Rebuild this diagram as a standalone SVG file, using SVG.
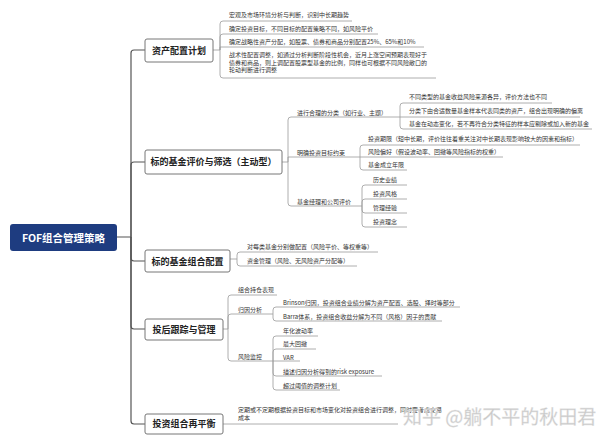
<svg xmlns="http://www.w3.org/2000/svg" width="600" height="444" viewBox="0 0 600 444">
<style>
text{font-family:"Noto Sans CJK SC","Noto Sans",sans-serif;}
.t{font-size:6px;fill:#333;}
.h{font-size:9px;fill:#222;font-weight:700;text-anchor:middle;}
.box{fill:#fff;stroke:#777;stroke-width:1;}
.trunk{fill:none;stroke:#555;stroke-width:1.2;}
.ln{fill:none;stroke:#9a9a9a;stroke-width:0.8;}
.wm{font-size:19px;fill:#c9c9c9;stroke:#e6e6e6;stroke-width:0.3;}
</style>
<rect width="600" height="444" fill="#fff"/>
<g id="connectors">
<path class="trunk" d="M117,237 H131 V53 Q131,50 134,50 H145"/>
<path class="trunk" d="M131,237 V165 Q131,162 134,162 H145"/>
<path class="trunk" d="M131,237 V258 Q131,261 134,261 H145"/>
<path class="trunk" d="M131,237 V326 Q131,329 134,329 H145"/>
<path class="trunk" d="M131,237 V421 Q131,424 134,424 H145"/>
<!-- section 1 -->
<path class="ln" d="M213,50 H220 V24 Q220,21 223,21 H352"/>
<path class="ln" d="M220,50 V37 Q220,34 223,34 H378"/>
<path class="ln" d="M220,50 V47 H424"/>
<path class="ln" d="M220,50 V75 Q220,78 223,78 H436"/>
<!-- section 2 -->
<path class="ln" d="M282,162 H288 V120 Q288,117 291,117 H400"/>
<path class="ln" d="M288,162 V157 H360"/>
<path class="ln" d="M288,162 V203 Q288,206 291,206 H362"/>
<path class="ln" d="M400,117 V106 Q400,103 403,103 H552"/>
<path class="ln" d="M400,117 H580"/>
<path class="ln" d="M400,117 V126 Q400,129 403,129 H592"/>
<path class="ln" d="M360,157 V148 Q360,145 363,145 H580"/>
<path class="ln" d="M360,157 H503"/>
<path class="ln" d="M360,157 V167 Q360,170 363,170 H407"/>
<path class="ln" d="M362,206 V188 Q362,185 365,185 H407"/>
<path class="ln" d="M362,206 V202 Q362,199 365,199 H407"/>
<path class="ln" d="M362,206 V210 Q362,213 365,213 H407"/>
<path class="ln" d="M362,206 V224 Q362,227 365,227 H407"/>
<!-- section 3 -->
<path class="ln" d="M230,259 H237 V255 Q237,252 240,252 H378"/>
<path class="ln" d="M237,259 V263 Q237,266 240,266 H357"/>
<!-- section 4 -->
<path class="ln" d="M223,329 H228 V298 Q228,295 231,295 H277"/>
<path class="ln" d="M228,329 V317 Q228,314 231,314 H273"/>
<path class="ln" d="M228,329 V358 Q228,361 231,361 H273"/>
<path class="ln" d="M273,314 V310 Q273,307 276,307 H460"/>
<path class="ln" d="M273,314 V318 Q273,321 276,321 H442"/>
<path class="ln" d="M273,361 V339 Q273,336 276,336 H318"/>
<path class="ln" d="M273,361 V352 Q273,349 276,349 H316"/>
<path class="ln" d="M273,361 H300"/>
<path class="ln" d="M273,361 V373 Q273,376 276,376 H382"/>
<path class="ln" d="M273,361 V387 Q273,390 276,390 H340"/>
<!-- section 5 -->
<path class="ln" d="M223,424 H398"/>
</g>
<g id="root">
<rect x="10" y="224" width="107" height="27" rx="3" fill="#1e3c80"/>
<text x="63.5" y="241.5" text-anchor="middle" font-size="10.5" font-weight="700" fill="#fff">FOF组合管理策略</text>
</g>
<g id="n1">
<rect class="box" x="145" y="39" width="68" height="23" rx="2"/>
<text class="h" x="179" y="53.5">资产配置计划</text>
</g>
<g id="n1-items">
<text class="t" x="229" y="17">宏观及市场环境分析与判断，识别中长期趋势</text>
<text class="t" x="229" y="30.5">确定投资目标，不同目标的配置策略不同，如风险平价</text>
<text class="t" x="229" y="44">确定战略性资产分配，如股票、债券和商品分别配置25%、65%和10%</text>
<text class="t" x="229" y="57">战术性配置调整，如通过分析判断阶段性机会，近月上涨空间预期表现好于</text>
<text class="t" x="229" y="64.5">债券和商品，则上调配置股票型基金的比例，同样也可根据不同风险敞口的</text>
<text class="t" x="229" y="72">轮动判断进行调整</text>
</g>
<g id="n2">
<rect class="box" x="145" y="150" width="137" height="24" rx="2"/>
<text class="h" x="213.5" y="165">标的基金评价与筛选（主动型）</text>
</g>
<g id="n2-items">
<text class="t" x="297" y="115">进行合理的分类（如行业、主题）</text>
<text class="t" x="409" y="99">不同类型的基金收益风险来源各异，评价方法也不同</text>
<text class="t" x="409" y="113">分类下由合适数量基金样本代表同类的资产，组合出现明确的偏离</text>
<text class="t" x="409" y="125.5">基金在动态变化，若不再符合分类特征的样本应剔除或加入新的基金</text>
<text class="t" x="297" y="155">明确投资目标约束</text>
<text class="t" x="368" y="141">投资期限（短中长期，评价往往着重关注对中长期表现影响较大的因素和指标）</text>
<text class="t" x="368" y="154">风险偏好（假设波动率、回撤等风险指标的权重）</text>
<text class="t" x="368" y="167">基金成立年限</text>
<text class="t" x="297" y="204">基金经理和公司评价</text>
<text class="t" x="373" y="182">历史业绩</text>
<text class="t" x="373" y="196">投资风格</text>
<text class="t" x="373" y="209.5">管理经验</text>
<text class="t" x="373" y="223.5">投资理念</text>
</g>
<g id="n3">
<rect class="box" x="145" y="250" width="85" height="22" rx="2"/>
<text class="h" x="187.5" y="264.5">标的基金组合配置</text>
</g>
<g id="n3-items">
<text class="t" x="247" y="249">对每类基金分别做配置（风险平价、等权重等）</text>
<text class="t" x="247" y="263">资金管理（风险、无风险资产分配等）</text>
</g>
<g id="n4">
<rect class="box" x="145" y="319" width="78" height="21" rx="2"/>
<text class="h" x="184" y="332.5">投后跟踪与管理</text>
</g>
<g id="n4-items">
<text class="t" x="238" y="292">组合持仓表现</text>
<text class="t" x="238" y="312">归因分析</text>
<text class="t" x="283" y="305">Brinson归因，投资组合业绩分解为资产配置、选股、择时等部分</text>
<text class="t" x="283" y="319">Barra体系，投资组合收益分解为不同（风格）因子的贡献</text>
<text class="t" x="238" y="359">风险监控</text>
<text class="t" x="283" y="333">年化波动率</text>
<text class="t" x="283" y="346">最大回撤</text>
<text class="t" x="283" y="359.5">VAR</text>
<text class="t" x="283" y="374">描述归因分析得到的risk exposure</text>
<text class="t" x="283" y="388">超过阈值的调整计划</text>
</g>
<g id="n5">
<rect class="box" x="145" y="414" width="78" height="20" rx="2"/>
<text class="h" x="184" y="427">投资组合再平衡</text>
</g>
<g id="n5-items">
<text class="t" x="238" y="412">定期或不定期根据投资目标和市场变化对投资组合进行调整，同时要考虑交易</text>
<text class="t" x="238" y="420">成本</text>
</g>
<text class="wm" x="403" y="424">知乎 @躺不平的秋田君</text>
</svg>
